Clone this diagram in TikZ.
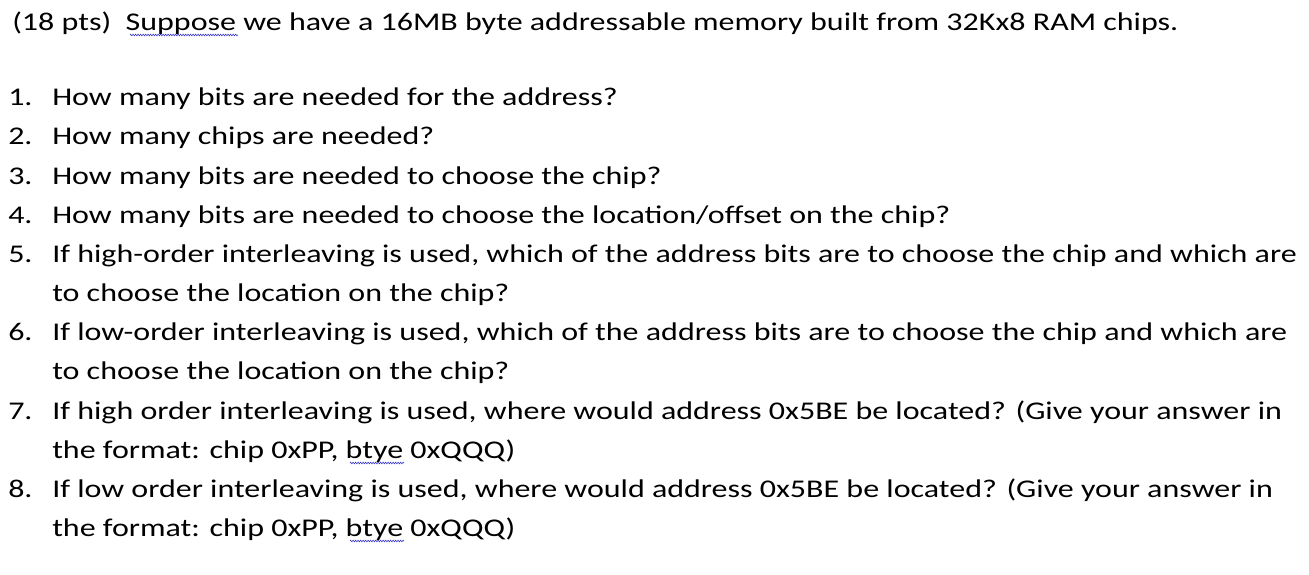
\documentclass[tikz,border=0pt]{standalone}
\usepackage{fontspec}
\setmainfont{Carlito}
\usetikzlibrary{decorations.pathmorphing}
\begin{document}
\begin{tikzpicture}[x=1pt,y=-1pt,
  txt/.style={anchor=base west,inner sep=0pt,font=\fontsize{25.5}{30}\selectfont,text=black,xscale=1.255},
  squig/.style={draw=blue!60!gray,line width=0.6pt,decorate,decoration={zigzag,amplitude=0.8pt,segment length=2.5pt}}]
\useasboundingbox[fill=white] (0,0) rectangle (1309,575);
\node[txt] (t0) at (12,31) {(18 pts)\ \ Suppose we have a 16MB byte addressable memory built from 32Kx8 RAM chips.};
\foreach \n/\y/\s in {1/106/{How many bits are needed for the address?},
  2/145/{How many chips are needed?},
  3/184/{How many bits are needed to choose the chip?},
  4/223/{How many bits are needed to choose the location/offset on the chip?},
  5/262/{If high-order interleaving is used, which of the address bits are to choose the chip and which are},
  6/340/{If low-order interleaving is used, which of the address bits are to choose the chip and which are},
  7/419/{If high order interleaving is used, where would address 0x5BE be located? (Give your answer in},
  8/497/{If low order interleaving is used, where would address 0x5BE be located? (Give your answer in}}
{\node[txt] (n\n) at (8,\y) {\n.}; \node[txt] (l\n) at (52,\y) {\s};}
\node[txt] (c5) at (52,301) {to choose the location on the chip?};
\node[txt] (c6) at (52,379) {to choose the location on the chip?};
\node[txt] (c7) at (52,458) {the format: chip 0xPP, btye 0xQQQ)};
\node[txt] (c8) at (52,536) {the format: chip 0xPP, btye 0xQQQ)};
\coordinate (s1) at (130,35); \coordinate (s2) at (238,35);
\draw[squig] (s1) -- (s2);
\coordinate (s3) at (350,463); \coordinate (s4) at (404,463);
\draw[squig] (s3) -- (s4);
\coordinate (s5) at (350,541); \coordinate (s6) at (404,541);
\draw[squig] (s5) -- (s6);
\end{tikzpicture}
\end{document}
